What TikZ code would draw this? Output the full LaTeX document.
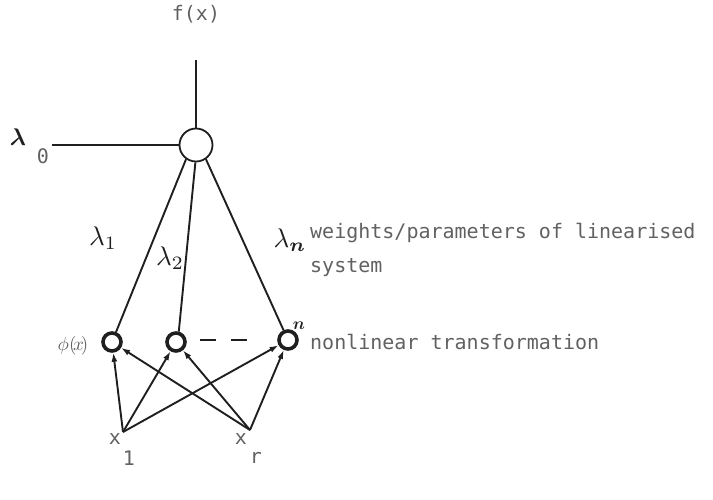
\documentclass[tikz,border=0pt]{standalone}
\usepackage{amsmath}
\usepackage{fontspec}
\setmonofont{DejaVu Sans Mono}
\usetikzlibrary{arrows.meta}
\definecolor{ink}{gray}{0.12}
\definecolor{typed}{gray}{0.38}
\newcommand{\bigsym}[2][2.7]{\scalebox{#1}{$#2$}}
\tikzset{
	sumnode/.style={circle, draw=ink, line width=1.8pt, minimum size=33pt, inner sep=0pt},
	hidnode/.style={circle, draw=ink, line width=3.6pt, minimum size=18pt, inner sep=0pt},
	label/.style={text=typed, font=\ttfamily\fontsize{20}{22}\selectfont, inner sep=0pt, anchor=west},
	greek/.style={text=ink, inner sep=0pt},
	wire/.style={draw=ink, line width=1.9pt},
	feed/.style={draw=ink, line width=1.9pt, -{Latex[length=9pt, width=6pt]}}
}
\begin{document}
\begin{tikzpicture}[x=1pt, y=-1pt]
	\useasboundingbox (0,0) rectangle (713,499);
	
	\node[sumnode] (out) at (196,145) {};
	\node[label, anchor=center] (fx) at (196,14) {f(x)};
	\coordinate (top) at (196,60);
	\coordinate (bias) at (52,145);
	\node[greek] (lam0) at (18,137) {\bigsym[2.4]{\boldsymbol{\lambda}}};
	\node[label, anchor=center] (zero) at (43,156) {0};
	
	\node[hidnode] (h1) at (112,342) {};
	\node[hidnode] (h2) at (176,342) {};
	\node[hidnode] (h3) at (288,340) {};
	\node[text=typed, inner sep=0pt] (phi) at (73,346) {\bigsym[1.9]{\phi(\!x\!)}};
	\node[greek] (nn) at (299,326) {\bigsym[1.7]{\boldsymbol{n}}};
	\node[label] (nonlin) at (310,342) {nonlinear transformation};
	
	\coordinate (x1) at (123,432);
	\coordinate (xr) at (250,430);
	\node[label, anchor=center] (x1lab) at (115,439) {x};
	\node[label, anchor=center] (x1sub) at (129,458) {1};
	\node[label, anchor=center] (xrlab) at (241,439) {x};
	\node[label, anchor=center] (xrsub) at (256,458) {r};
	
	\draw[wire] (top) -- (out);
	\draw[wire] (bias) -- (out);
	
	\draw[wire] (out.235) -- (h1);
	\draw[wire] (out.268) -- (h2.75);
	\draw[wire] (out.305) -- (h3);
	\node[greek] (lam1) at (103,238) {\bigsym{\lambda_1}};
	\node[greek] (lam2) at (170,258) {\bigsym{\lambda_2}};
	\node[greek] (lamn) at (290,240) {\bigsym{\lambda_{\boldsymbol{n}}}};
	\node[label] (weights) at (310,233) {weights/parameters of linearised};
	\node[label] (system) at (310,268) {system};
	
	\draw[wire, dash pattern=on 16pt off 15pt] (h2) ++(24,-2) coordinate (d1) -- ++(48,0) coordinate (d2);
	
	\foreach \s in {x1, xr}
		\foreach \t in {h1, h2, h3}
			\draw[feed] (\s) -- (\t);
\end{tikzpicture}
\end{document}
